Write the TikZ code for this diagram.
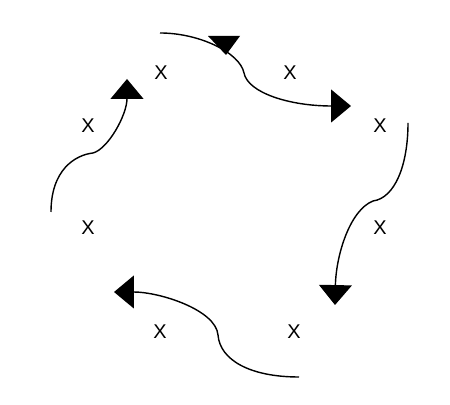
\documentclass[tikz,border=0pt]{standalone}
\usepackage{fontspec}
\setmainfont{Liberation Sans}
\usepackage{tikz}
\usetikzlibrary{arrows.meta, positioning}

\begin{document}
\begin{tikzpicture}[x=0.03cm, y=0.03cm,
    lbl/.style={font=\fontsize{17}{20}\selectfont, inner sep=0pt},
    flow/.style={line width=1.2pt, -{Triangle[length=17, width=28]}}]
  \useasboundingbox (0,0) rectangle (450,405);

  % labels
  \node[lbl] (xa) at (161,332) {X};
  \node[lbl] (xb) at (290,332) {X};
  \node[lbl] (xc) at (380,279) {X};
  \node[lbl] (xd) at (88,279) {X};
  \node[lbl] (xe) at (88,177) {X};
  \node[lbl] (xf) at (380,177) {X};
  \node[lbl] (xg) at (160,73) {X};
  \node[lbl] (xh) at (294,73) {X};

  % curve ends and kinks
  \coordinate (topS) at (160,372);
  \coordinate (topM) at (244,332);
  \coordinate (topE) at (351,299);
  \coordinate (rgtS) at (408,282);
  \coordinate (rgtM) at (373,204);
  \coordinate (rgtE) at (335,100);
  \coordinate (botS) at (299,28);
  \coordinate (botM) at (218,70);
  \coordinate (botE) at (114,113);
  \coordinate (lftS) at (51,193);
  \coordinate (lftM) at (93,252);
  \coordinate (lftE) at (127,326);

  \draw[flow] (topS) .. controls (200,372) and (240,352) .. (topM)
                     .. controls (248,312) and (290,299) .. (topE);
  \draw[flow] (rgtS) .. controls (408,240) and (395,207) .. (rgtM)
                     .. controls (350,195) and (336,150) .. (rgtE);
  \draw[flow] (botS) .. controls (250,28) and (220,45) .. (botM)
                     .. controls (216,95) and (160,113) .. (botE);
  \draw[flow] (lftS) .. controls (51,235) and (75,250) .. (lftM)
                     .. controls (108,256) and (127,290) .. (lftE);

  % stray head on the top curve
  \fill (208,369) -- (240,369) -- (226,350) -- cycle;
\end{tikzpicture}
\end{document}
